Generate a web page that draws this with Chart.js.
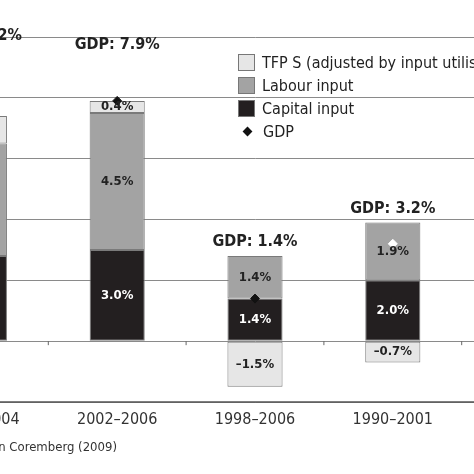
<!DOCTYPE html>
<html>
<head>
<meta charset="utf-8">
<script src="https://cdn.jsdelivr.net/npm/chart.js@4"></script>
<style>
  html, body { margin: 0; padding: 0; background: #fff; width: 474px; height: 474px; overflow: hidden; position: relative; }
  body { font-family: "Liberation Sans Narrow", "DejaVu Sans Condensed", sans-serif; color: #222; }
  #wrap { position: absolute; left: -95px; top: 0; width: 700px; height: 474px; }
  #legend { position: absolute; left: 238px; top: 51px; font-size: 16px; line-height: 23px; white-space: nowrap; }
  #legend div { display: flex; align-items: center; }
  #legend .box { width: 17px; height: 17px; border: 1px solid #777; margin-right: 7px; box-sizing: border-box; }
  #legend .dia { width: 7px; height: 7px; background: #111; transform: rotate(45deg); margin: 0 12px 0 6px; }
  #source { position: absolute; right: 357px; top: 439px; font-size: 13px; white-space: nowrap; color: #333; }
</style>
</head>
<body>
<div id="wrap"><canvas id="chart"></canvas></div>
<div id="legend">
  <div><span class="box" style="background:#e6e6e6"></span>TFP S (adjusted by input utilisation)</div>
  <div><span class="box" style="background:#a3a3a3"></span>Labour input</div>
  <div><span class="box" style="background:#231f20"></span>Capital input</div>
  <div><span class="dia"></span>GDP</div>
</div>
<div id="source">Source: Own elaboration based on Coremberg (2009)</div>
<script>
const periods = ['1990–2004', '2002–2006', '1998–2006', '1990–2001', ''];
const capital = [2.8, 3.0, 1.4, 2.0, null];
const labour = [3.7, 4.5, 1.4, 1.9, null];
const tfp = [0.9, 0.4, -1.5, -0.7, null];
const gdp = [8.2, 7.9, 1.4, 3.2, null];
const yTicks = [-2, 0, 2, 4, 6, 8, 10];

const font = '"Liberation Sans Narrow", "DejaVu Sans Condensed", sans-serif';

const decorations = {
  id: 'decorations',
  beforeDatasetsDraw(chart) {
    const { ctx, chartArea, scales: { x, y } } = chart;
    ctx.save();
    ctx.strokeStyle = '#555';
    ctx.lineWidth = 1.5;
    ctx.beginPath();
    ctx.moveTo(chartArea.left, y.getPixelForValue(-2));
    ctx.lineTo(chartArea.right, y.getPixelForValue(-2));
    ctx.stroke();
    // small ticks on zero line between categories
    ctx.strokeStyle = '#666';
    ctx.lineWidth = 1;
    const y0 = y.getPixelForValue(0);
    for (let i = 0; i < periods.length - 1; i++) {
      const xb = (x.getPixelForValue(i) + x.getPixelForValue(i + 1)) / 2;
      ctx.beginPath(); ctx.moveTo(xb, y0); ctx.lineTo(xb, y0 + 4); ctx.stroke();
    }
    ctx.restore();
  },
  afterDatasetsDraw(chart) {
    const { ctx, scales: { x, y } } = chart;
    ctx.save();
    ctx.textAlign = 'center';
    ctx.textBaseline = 'middle';
    // segment labels
    [[0, capital, '#fff'], [1, labour, '#222'], [2, tfp, '#222']].forEach(([di, arr, col]) => {
      const meta = chart.getDatasetMeta(di);
      meta.data.forEach((bar, i) => {
        if (arr[i] == null) return;
        const p = bar.getProps(['x', 'y', 'base'], true);
        ctx.fillStyle = col;
        ctx.font = 'bold 13px ' + font;
        ctx.fillText(arr[i].toFixed(1).replace('-', '–') + '%', p.x, (p.y + p.base) / 2);
      });
    });
    // GDP labels
    ctx.font = 'bold 16px ' + font;
    ctx.fillStyle = '#222';
    gdp.forEach((v, i) => {
      if (v == null) return;
      const top = Math.max(capital[i] + labour[i] + Math.max(tfp[i], 0), v);
      let ly = y.getPixelForValue(top) - 14;
      if (top > 7) ly = y.getPixelForValue(top) - 56;
      ctx.fillText('GDP: ' + v.toFixed(1) + '%', x.getPixelForValue(i), ly);
    });
    // category labels
    ctx.font = '16px ' + font;
    ctx.fillStyle = '#333';
    periods.forEach((p, i) => ctx.fillText(p, x.getPixelForValue(i), 420));
    ctx.restore();
  }
};

const segStyle = { borderColor: '#7a7a7a', borderWidth: 1, borderSkipped: false, categoryPercentage: 1, barPercentage: 0.4, stack: 's' };

new Chart(document.getElementById('chart'), {
  data: {
    labels: periods,
    datasets: [
      { type: 'bar', label: 'Capital input', data: capital, backgroundColor: '#231f20', ...segStyle, order: 2 },
      { type: 'bar', label: 'Labour input', data: labour, backgroundColor: '#a3a3a3', ...segStyle, order: 2 },
      { type: 'bar', label: 'TFP S', data: tfp, backgroundColor: '#e6e6e6', ...segStyle, order: 2 },
      {
        type: 'line', label: 'GDP', data: gdp, showLine: false, order: 1,
        pointStyle: 'rectRot', pointRadius: 4.5,
        pointBackgroundColor: gdp.map((v, i) => (v < capital[i] + labour[i] && tfp[i] < 0 && v > capital[i]) ? '#fff' : '#111'),
        pointBorderColor: gdp.map((v, i) => (v < capital[i] + labour[i] && tfp[i] < 0 && v > capital[i]) ? '#fff' : '#111'),
        pointBorderWidth: 1
      }
    ]
  },
  options: {
    responsive: true,
    maintainAspectRatio: false,
    animation: false,
    layout: { padding: { top: 37, bottom: 72, left: 0, right: 0 } },
    plugins: { legend: { display: false }, tooltip: { enabled: false } },
    scales: {
      x: { stacked: true, display: false },
      y: {
        stacked: true, min: -2, max: 10,
        afterBuildTicks: axis => { axis.ticks = yTicks.map(v => ({ value: v })); },
        ticks: { display: false },
        border: { display: false },
        grid: { color: '#8a8a8a', lineWidth: 1, drawTicks: false }
      }
    }
  },
  plugins: [decorations]
});
</script>
</body>
</html>
